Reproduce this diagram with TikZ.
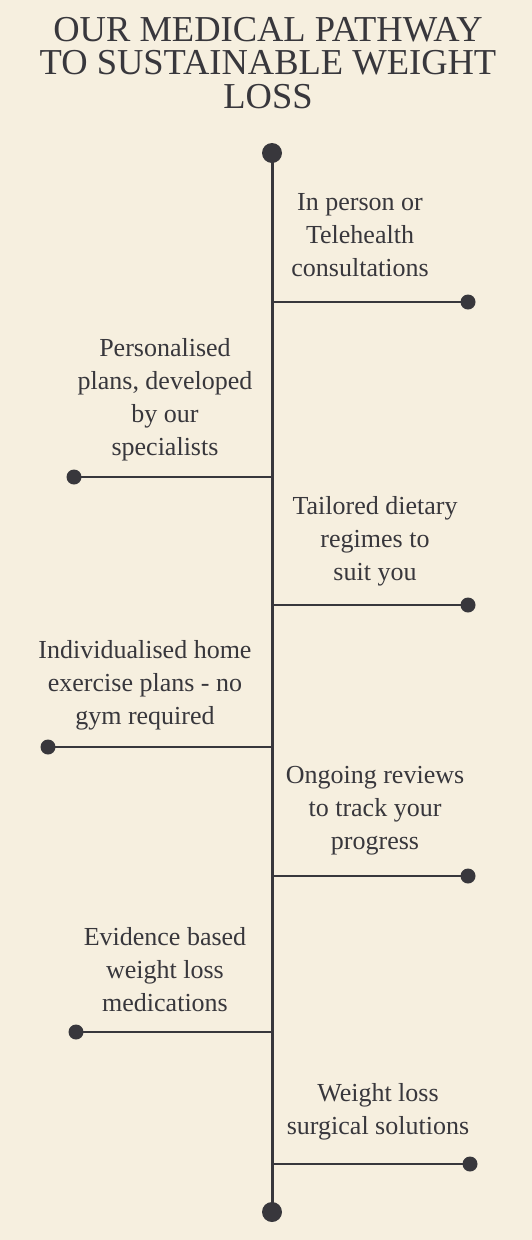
\documentclass[tikz,border=0pt]{standalone}
\usepackage{fontspec}
\setmainfont{Liberation Serif}
\definecolor{bg}{RGB}{246,239,223}
\definecolor{ink}{RGB}{56,55,60}
\begin{document}
\begin{tikzpicture}[x=1pt,y=-1pt,
  trunk/.style={draw=ink,line width=3pt},
  branch/.style={draw=ink,line width=2.6pt},
  bigdot/.style={circle,fill=ink,inner sep=0pt,minimum size=20pt},
  smalldot/.style={circle,fill=ink,inner sep=0pt,minimum size=15pt},
  label/.style={text=ink,align=center,inner sep=0pt,font=\fontsize{26}{33}\selectfont},
  titletext/.style={text=ink,align=center,inner sep=0pt,font=\fontsize{36.5}{33.5}\selectfont}]
\fill[bg] (0,0) rectangle (532,1240);
\useasboundingbox (0,0) rectangle (532,1240);

\node[titletext] (title) at (268,63) {OUR MEDICAL PATHWAY\\TO SUSTAINABLE WEIGHT\\LOSS};

\node[bigdot] (top) at (272,153) {};
\node[bigdot] (bottom) at (272,1212) {};
\coordinate (j1) at (272,302);
\coordinate (j2) at (272,477);
\coordinate (j3) at (272,605);
\coordinate (j4) at (272,747);
\coordinate (j5) at (272,876);
\coordinate (j6) at (272,1032);
\coordinate (j7) at (272,1164);
\draw[trunk] (top.center) -- (bottom.center);

\node[smalldot] (e1) at (468,302) {};
\node[smalldot] (e2) at (74,477) {};
\node[smalldot] (e3) at (468,605) {};
\node[smalldot] (e4) at (48,747) {};
\node[smalldot] (e5) at (468,876) {};
\node[smalldot] (e6) at (76,1032) {};
\node[smalldot] (e7) at (470,1164) {};
\foreach \i in {1,...,7} {\draw[branch] (j\i) -- (e\i.center);}

\node[label] (t1) at (360,235) {In person or\\Telehealth\\consultations};
\node[label] (t2) at (165,400) {Personalised\\plans, developed\\by our\\specialists};
\node[label] (t3) at (375,541) {Tailored dietary\\regimes to\\suit you};
\node[label] (t4) at (145,685) {Individualised home\\exercise plans - no\\gym required};
\node[label] (t5) at (375,811) {Ongoing reviews\\to track your\\progress};
\node[label] (t6) at (165,970) {Evidence based\\weight loss\\medications};
\node[label] (t7) at (378,1111.5) {Weight loss\\surgical solutions};
\end{tikzpicture}
\end{document}
